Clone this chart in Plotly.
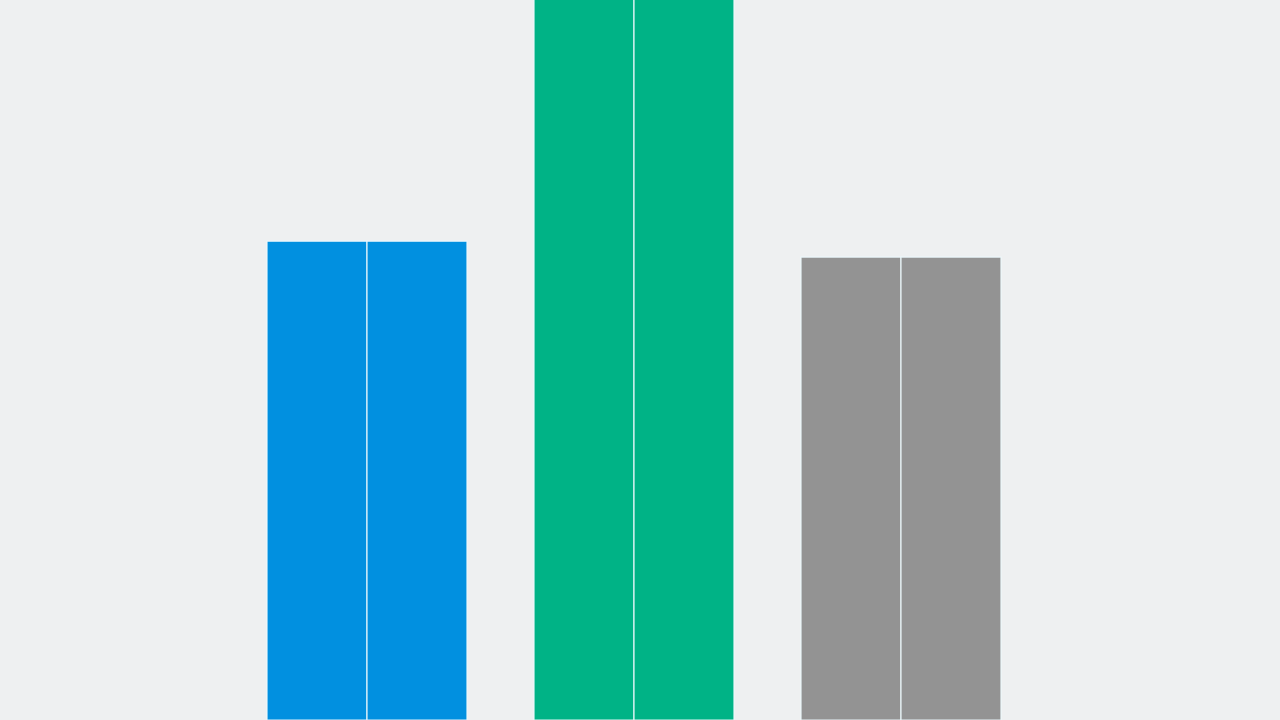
import plotly.graph_objects as go

categories = ["A", "B", "C"]
series_left = [66.5, 105.0, 64.3]
series_right = [66.5, 105.0, 64.3]
colors = ["#0190e0", "#00b386", "#939393"]

fig = go.Figure()
for name, vals in [("left", series_left), ("right", series_right)]:
    fig.add_trace(go.Bar(
        x=categories, y=vals, name=name,
        marker=dict(color=colors, line=dict(color="rgba(235,248,252,0.95)", width=1.2)),
        showlegend=False, hoverinfo="skip",
    ))

px_per_cat = 267.0
left = -367.0 / px_per_cat
right = (1280.0 - 367.0) / px_per_cat

fig.update_layout(
    width=1280, height=720, autosize=False,
    margin=dict(l=0, r=0, t=0, b=0),
    barmode="group", bargap=1 - 200.0 / 267.0, bargroupgap=0,
    paper_bgcolor="#eef0f1", plot_bgcolor="#eef0f1",
    xaxis=dict(visible=False, range=[left, right]),
    yaxis=dict(visible=False, range=[0, 100]),
)
fig.write_html(
    "out.html",
    config={"displayModeBar": False},
    post_script="document.body.style.margin='0';document.body.style.background='#eef0f1';",
)
